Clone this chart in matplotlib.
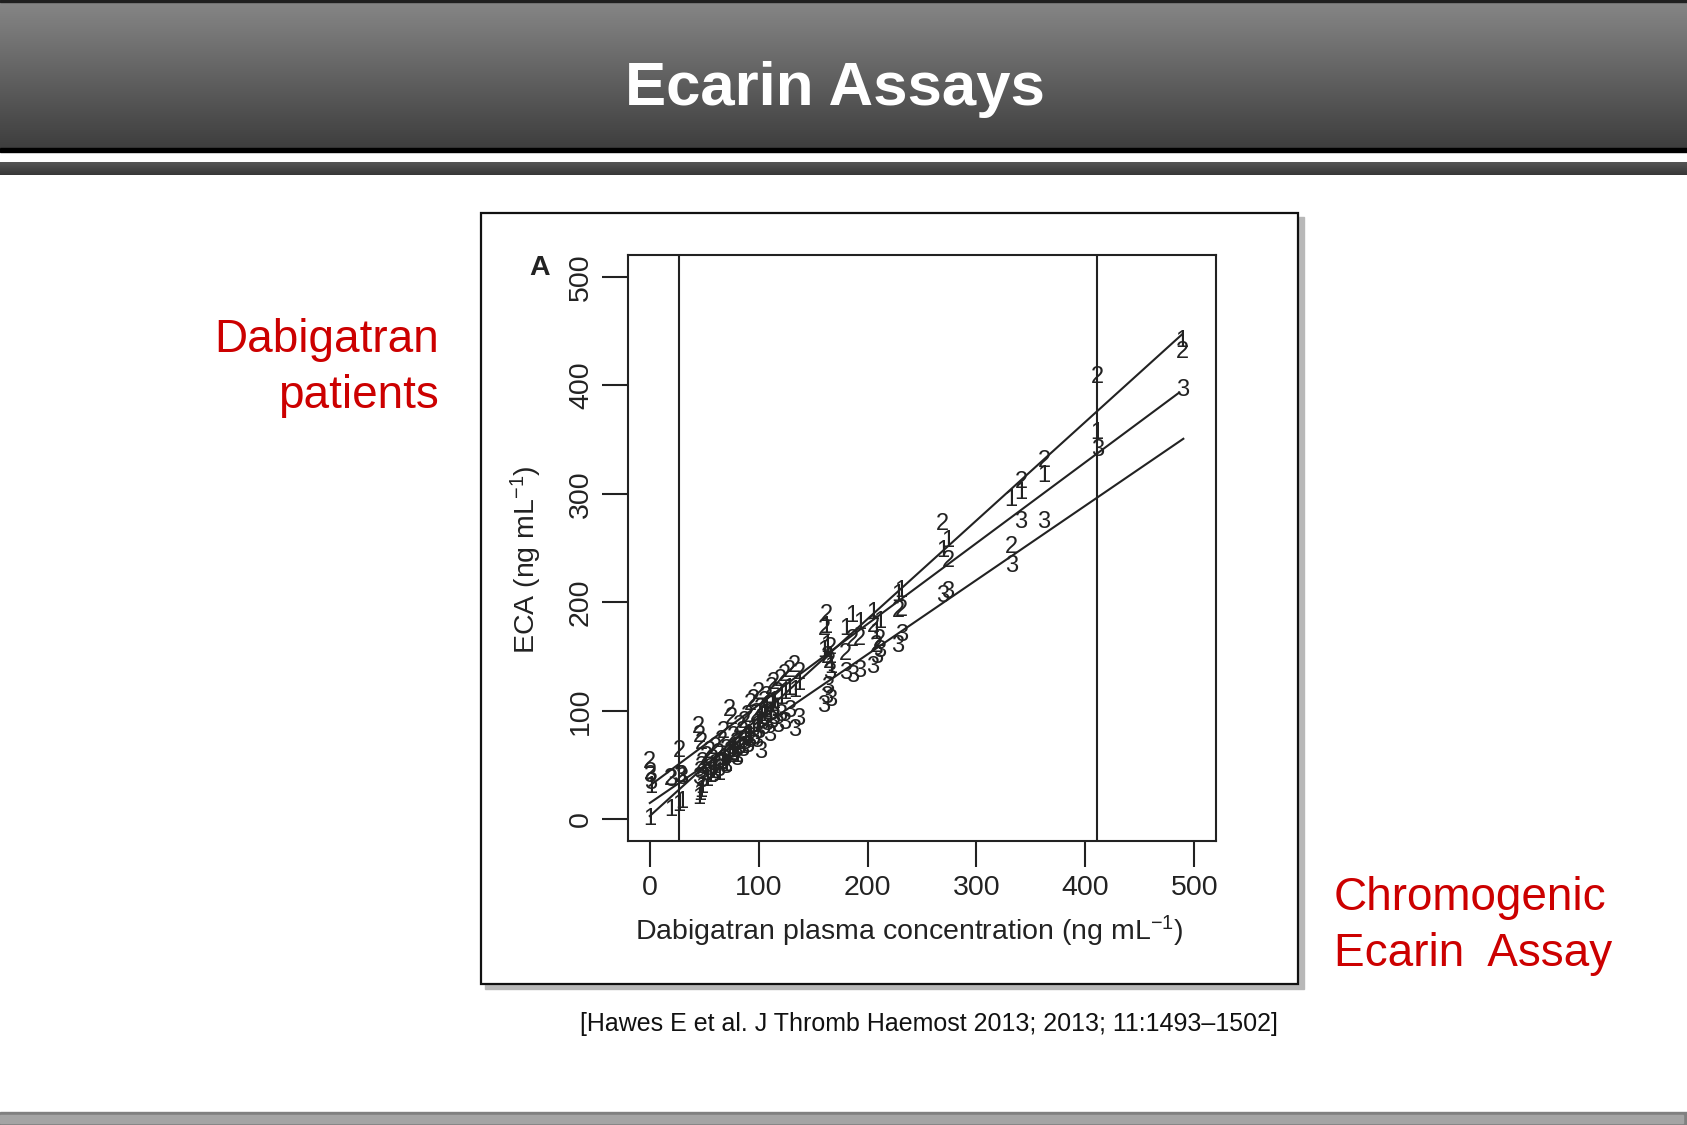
import numpy as np
import matplotlib
matplotlib.use("Agg")
import matplotlib.pyplot as plt
from matplotlib.patches import Rectangle

plt.rcParams['font.family'] = ['Liberation Sans', 'DejaVu Sans']
plt.rcParams['mathtext.fontset'] = 'custom'
plt.rcParams['mathtext.rm'] = 'Liberation Sans'
plt.rcParams['mathtext.default'] = 'regular'

# ---------------- data ----------------
conc = [0, 1, 19, 27, 29, 45, 46, 47, 48, 52, 55, 58, 60, 63, 66, 68, 70, 73, 75, 77,
        80, 82, 85, 87, 90, 92, 95, 98, 100, 102, 105, 107, 110, 112, 114, 117, 120, 124,
        128, 133, 137, 160, 162, 163, 165, 166, 180, 186, 193, 205, 208, 211, 228, 231,
        269, 274, 332, 341, 362, 411, 489]
assay1 = [0, 30, 9, 13, 16, 20, 23, 26, 30, 36, 40, 44, 48, 42, 52, 56, 50, 60, 63, 66,
          58, 70, 67, 74, 78, 76, 82, 86, 90, 93, 96, 100, 98, 105, 108, 102, 112, 116,
          120, 118, 125, 155, 177, 160, 150, 140, 175, 187, 181, 190, 172, 182, 207, 210,
          247, 256, 294, 301, 316, 356, 441]
assay2 = [53, 43, 37, 63, 40, 85, 77, 70, 52, 57, 62, 55, 66, 60, 72, 80, 64, 101, 93, 76,
          70, 86, 80, 90, 95, 106, 110, 97, 116, 102, 108, 113, 104, 121, 126, 116, 128, 133,
          137, 141, 135, 175, 188, 150, 145, 158, 152, 165, 166, 178, 160, 165, 192, 193,
          272, 238, 251, 311, 330, 408, 431]
assay3 = [40, 33, 36, 40, 38, 38, 44, 48, 35, 42, 46, 40, 50, 45, 52, 55, 48, 62, 58, 60,
          56, 66, 64, 70, 68, 72, 75, 72, 80, 62, 84, 88, 78, 90, 93, 86, 96, 89,
          100, 82, 92, 104, 113, 122, 135, 110, 135, 132, 137, 140, 150, 155, 160, 170,
          206, 209, 233, 274, 274, 340, 396]
series = [("1", assay1), ("2", assay2), ("3", assay3)]

# regression lines: (intercept, slope, x range)
fit_intercept = [3, 31, 15]
fit_slope = [0.908, 0.745, 0.685]
fit_xmax = [489, 486, 490]
fit_xmin = [0, 0, 0]

limit_lines = [27, 411]

x_ticks = [0, 100, 200, 300, 400, 500]
y_ticks = [0, 100, 200, 300, 400, 500]

W, H = 1687, 1125
fig = plt.figure(figsize=(W / 100, H / 100), dpi=100)

# ---------------- slide background ----------------
bg = fig.add_axes([0, 0, 1, 1])
bg.set_xlim(0, W)
bg.set_ylim(H, 0)
bg.axis('off')

grad = np.linspace(0, 1, 256).reshape(-1, 1)
top_c = np.array([135, 135, 135]) / 255
bot_c = np.array([62, 62, 62]) / 255
img = top_c[None, None, :] * (1 - grad[:, :, None]) + bot_c[None, None, :] * grad[:, :, None]
bg.imshow(img, extent=[0, W, 148, 0], aspect='auto', zorder=1)
bg.add_patch(Rectangle((0, 0), W, 2, color='#202020', zorder=2))
bg.add_patch(Rectangle((0, 148), W, 4, color='#000000', zorder=2))

grad2 = np.linspace(0, 1, 64).reshape(-1, 1)
c1 = np.array([85, 85, 85]) / 255
c2 = np.array([55, 55, 55]) / 255
img2 = c1[None, None, :] * (1 - grad2[:, :, None]) + c2[None, None, :] * grad2[:, :, None]
bg.imshow(img2, extent=[0, W, 175, 162], aspect='auto', zorder=1)

bg.add_patch(Rectangle((0, 1112), W, 13, color='#808080', zorder=1))
bg.add_patch(Rectangle((0, 1115), W - 4, 8, color='#a4a4a4', zorder=2))

bg.text(835, 89, "Ecarin Assays", color='white', fontsize=44.5, fontweight='bold',
        ha='center', va='center', zorder=3)

# figure box with shadow
bg.add_patch(Rectangle((485, 217), 819, 772, color='#b8b8b8', zorder=1))
bg.add_patch(Rectangle((481, 213), 817, 771, facecolor='white', edgecolor='#111111',
                       linewidth=1.6, zorder=2))

bg.text(439, 340, "Dabigatran", color='#cc0000', fontsize=33, ha='right', va='center', zorder=3)
bg.text(439, 396, "patients", color='#cc0000', fontsize=33, ha='right', va='center', zorder=3)
bg.text(1334, 898, "Chromogenic", color='#cc0000', fontsize=33, ha='left', va='center', zorder=3)
bg.text(1334, 954, "Ecarin  Assay", color='#cc0000', fontsize=33, ha='left', va='center', zorder=3)

bg.text(929, 1024, "[Hawes E et al. J Thromb Haemost 2013; 2013; 11:1493\u20131502]",
        color='#111111', fontsize=18, ha='center', va='center', zorder=3)

bg.text(540, 268, "A", color='#222222', fontsize=20.5, fontweight='bold',
        ha='center', va='center', zorder=3)

# ---------------- main plot ----------------
ax = fig.add_axes([628 / W, 1 - 841 / H, 588 / W, 586 / H], zorder=5)
ax.set_facecolor('white')
ax.set_xlim(-20, 520)
ax.set_ylim(-20, 520)

ink = '#222222'
for lbl, ys in series:
    for xv, yv in zip(conc, ys):
        ax.text(xv, yv, lbl, fontsize=17, color=ink, ha='center', va='center')

for b0, b1, xa, xb in zip(fit_intercept, fit_slope, fit_xmin, fit_xmax):
    xs = np.array([xa, xb])
    ax.plot(xs, b0 + b1 * xs, color=ink, lw=1.5)

for xv in limit_lines:
    ax.axvline(xv, color=ink, lw=1.5)

ax.set_xticks(x_ticks)
ax.set_yticks(y_ticks)
ax.tick_params(direction='out', length=18.5, width=1.5, colors=ink, labelsize=20.5, pad=6)
ax.tick_params(axis='y', labelrotation=90)
for t in ax.get_yticklabels():
    t.set_va('center')
for s in ax.spines.values():
    s.set_linewidth(1.5)
    s.set_color(ink)

ax.set_xlabel(r"Dabigatran plasma concentration (ng mL$^{-1}$)", fontsize=20.5, color=ink)
ax.set_ylabel(r"ECA (ng mL$^{-1}$)", fontsize=20.5, color=ink)
ax.xaxis.label.set_va('center')
ax.yaxis.label.set_va('center')
ax.xaxis.set_label_coords(0.478, -0.155)
ax.yaxis.set_label_coords(-0.172, 0.48)

fig.savefig("out.png", dpi=100)
